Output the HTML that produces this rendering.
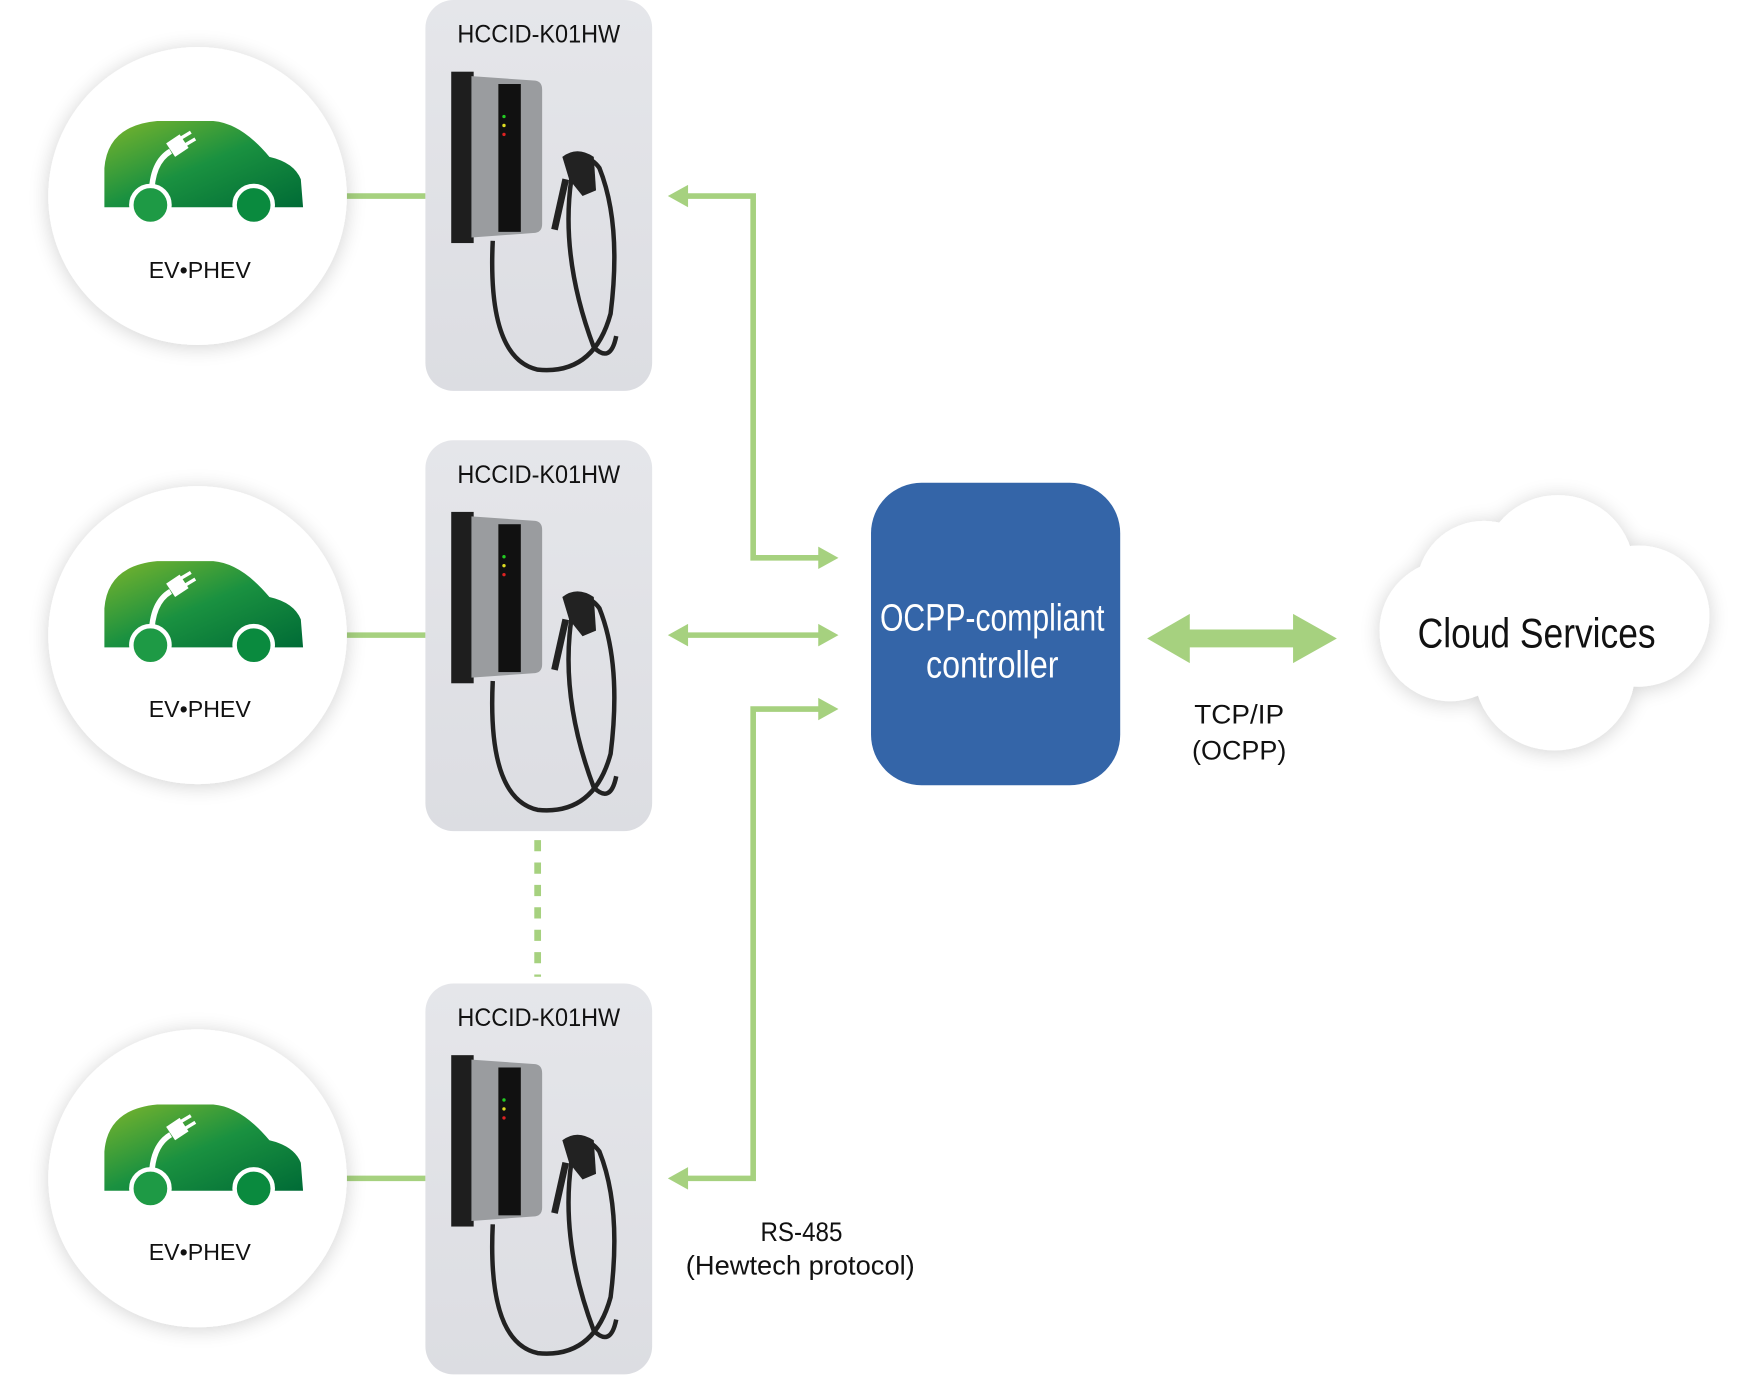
<!DOCTYPE html>
<html><head><meta charset="utf-8"><style>
html,body{margin:0;padding:0;background:#fff;width:1760px;height:1380px;overflow:hidden}
svg{display:block}
text{font-family:"Liberation Sans",sans-serif}
</style></head><body>
<svg width="1760" height="1380" viewBox="0 0 1568 1232" preserveAspectRatio="none" xmlns="http://www.w3.org/2000/svg">
<defs>
<filter id="sh" x="-30%" y="-30%" width="160%" height="160%"><feGaussianBlur in="SourceAlpha" stdDeviation="9"/><feOffset dx="0" dy="2"/><feComponentTransfer><feFuncA type="linear" slope="0.18"/></feComponentTransfer><feMerge><feMergeNode/><feMergeNode in="SourceGraphic"/></feMerge></filter>
<linearGradient id="car" x1="0" y1="0" x2="1" y2="1"><stop offset="0" stop-color="#7bb52c"/><stop offset="0.5" stop-color="#1a9140"/><stop offset="1" stop-color="#006b36"/></linearGradient>
<linearGradient id="pan" x1="0" y1="0" x2="0" y2="1"><stop offset="0" stop-color="#e5e6ea"/><stop offset="1" stop-color="#dcdde2"/></linearGradient>
<g id="carIcon">
<path d="M93,185 L93,150 Q96,112 140,108 L190,108 Q215,110 240,140 Q262,145 268,160 L270,185 Z" fill="url(#car)"/>
<path d="M135,175 Q135,145 152,135" stroke="#fff" stroke-width="5" fill="none"/>
<path d="M148,128 l12,-8 l8,12 l-12,8 z" fill="#fff"/>
<line x1="160" y1="124" x2="170" y2="118" stroke="#fff" stroke-width="3"/>
<line x1="164" y1="130" x2="174" y2="124" stroke="#fff" stroke-width="3"/>
<circle cx="134" cy="183" r="17" fill="#1e9a45" stroke="#fff" stroke-width="4"/>
<circle cx="226" cy="183" r="17" fill="#0a8a3e" stroke="#fff" stroke-width="4"/>
</g>
<g id="charger">
<rect x="0" y="0" width="202" height="349" rx="25" fill="url(#pan)"/>
<text x="101" y="38" font-size="22" text-anchor="middle" fill="#111" textLength="145" lengthAdjust="spacingAndGlyphs">HCCID-K01HW</text>
<rect x="23" y="64" width="20" height="153" fill="#1e1e1e"/>
<path d="M41,68 L98,72 Q104,73 104,80 L104,200 Q104,208 96,208 L41,212 Z" fill="#9a9c9f"/>
<rect x="65" y="75" width="20" height="132" fill="#111"/>
<circle cx="70" cy="104" r="1.5" fill="#2c2"/><circle cx="70" cy="112" r="1.5" fill="#dd2"/><circle cx="70" cy="120" r="1.5" fill="#d22"/>
<path d="M60,215 Q55,320 100,330 Q150,335 165,280 Q175,200 155,150 Q140,130 130,160 Q120,230 150,310 Q165,325 170,300" stroke="#222" stroke-width="4" fill="none"/>
<path d="M122,140 Q135,130 150,140 L152,170 L140,175 L128,160 Z" fill="#222"/>
<path d="M125,160 L115,205" stroke="#222" stroke-width="6"/>
</g>
</defs>

<g stroke="#a6d17f" stroke-width="5" fill="none">
<line x1="309" y1="175" x2="379" y2="175"/>
<line x1="309" y1="567" x2="379" y2="567"/>
<line x1="309" y1="1052" x2="379" y2="1052"/>
<polyline points="610,175 671,175 671,498 732,498"/>
<line x1="610" y1="567" x2="732" y2="567"/>
<polyline points="610,1052 671,1052 671,633 732,633"/>
<line x1="479" y1="750" x2="479" y2="872" stroke-width="6" stroke-dasharray="10 10"/>
</g>
<g fill="#a6d17f">
<polygon points="595,175 613,165 613,185"/>
<polygon points="595,567 613,557 613,577"/>
<polygon points="595,1052 613,1042 613,1062"/>
<polygon points="747,498 729,488 729,508"/>
<polygon points="747,567 729,557 729,577"/>
<polygon points="747,633 729,623 729,643"/>
<polygon points="1022,570 1060,548 1060,562 1152,562 1152,548 1191,570 1152,592 1152,578 1060,578 1060,592"/>
</g>

<g filter="url(#sh)" fill="#fff">
<circle cx="176" cy="175" r="133"/>
<circle cx="176" cy="567" r="133"/>
<circle cx="176" cy="1052" r="133"/>
</g>
<use href="#carIcon"/>
<use href="#carIcon" y="393"/>
<use href="#carIcon" y="878"/>
<g font-size="21" text-anchor="middle" fill="#111">
<text x="178" y="248" textLength="91" lengthAdjust="spacingAndGlyphs">EV•PHEV</text>
<text x="178" y="640" textLength="91" lengthAdjust="spacingAndGlyphs">EV•PHEV</text>
<text x="178" y="1125" textLength="91" lengthAdjust="spacingAndGlyphs">EV•PHEV</text>
</g>

<use href="#charger" x="379" y="0"/>
<use href="#charger" x="379" y="393"/>
<use href="#charger" x="379" y="878"/>

<rect x="776" y="431" width="222" height="270" rx="45" fill="#3465a8"/>
<text x="884" y="563" font-size="34" text-anchor="middle" fill="#fff" textLength="200" lengthAdjust="spacingAndGlyphs">OCPP-compliant</text>
<text x="884" y="605" font-size="34" text-anchor="middle" fill="#fff" textLength="118" lengthAdjust="spacingAndGlyphs">controller</text>

<g font-size="24" text-anchor="middle" fill="#111">
<text x="1104" y="646" textLength="80" lengthAdjust="spacingAndGlyphs">TCP/IP</text>
<text x="1104" y="678" textLength="84" lengthAdjust="spacingAndGlyphs">(OCPP)</text>
<text x="714" y="1108" textLength="73" lengthAdjust="spacingAndGlyphs">RS-485</text>
<text x="713" y="1138" textLength="204" lengthAdjust="spacingAndGlyphs">(Hewtech protocol)</text>
</g>

<g filter="url(#sh)" fill="#fff">
<circle cx="1292" cy="563" r="63"/>
<circle cx="1322" cy="525" r="60"/>
<circle cx="1388" cy="510" r="68"/>
<circle cx="1460" cy="550" r="63"/>
<circle cx="1385" cy="598" r="72"/>
<rect x="1290" y="520" width="170" height="90"/>
</g>
<text x="1369" y="578" font-size="37" text-anchor="middle" fill="#111" textLength="212" lengthAdjust="spacingAndGlyphs">Cloud Services</text>
</svg>
</body></html>
